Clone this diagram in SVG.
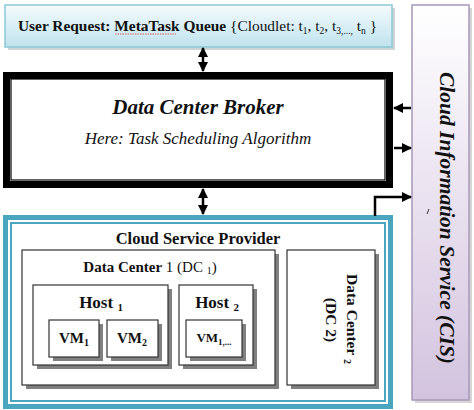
<svg xmlns="http://www.w3.org/2000/svg" width="474" height="410" viewBox="0 0 474 410">
<defs>
<linearGradient id="gUser" x1="0" y1="0" x2="0" y2="1">
<stop offset="0" stop-color="#f4fbfd"/>
<stop offset="1" stop-color="#bfe3ee"/>
</linearGradient>
<linearGradient id="gCis" x1="0" y1="0" x2="0" y2="1">
<stop offset="0" stop-color="#ffffff"/>
<stop offset="1" stop-color="#d3c3df"/>
</linearGradient>
<marker id="ah" markerWidth="10" markerHeight="10" refX="9" refY="5" orient="auto-start-reverse" markerUnits="userSpaceOnUse">
<path d="M0,0 L10,5 L0,10 z" fill="#000"/>
</marker>
</defs>
<style>
.b{font-weight:bold}
.box{fill:#fff;stroke:#333;stroke-width:1.2}
.shadow{fill:#808080}
.conn{stroke:#000;stroke-width:2.5;fill:none}
</style>
<rect width="474" height="410" fill="#fff"/>
<g font-family="Liberation Serif, serif" fill="#111">

<g id="user-request">
<rect x="8" y="8" width="387" height="42" fill="#9aa" opacity="0.5"/>
<rect x="5" y="5" width="387" height="42" fill="url(#gUser)" stroke="#8cc9d6" stroke-width="1.5"/>
<text x="18" y="31" font-size="15.4"><tspan class="b">User Request: MetaTask Queue</tspan> {Cloudlet: t<tspan font-size="9.5" dy="3">1</tspan><tspan dy="-3">, t</tspan><tspan font-size="9.5" dy="3">2</tspan><tspan dy="-3">, t</tspan><tspan font-size="9.5" dy="3">3,...,</tspan><tspan dy="-3"> t</tspan><tspan font-size="9.5" dy="3">n</tspan><tspan dy="-3"> }</tspan></text>
<path d="M115,34 h61" stroke="#e04040" stroke-width="0.8" stroke-dasharray="1.5,1"/>
</g>

<g id="cis">
<rect x="415" y="8" width="57" height="395" fill="#999" opacity="0.4"/>
<rect x="412" y="5" width="57" height="395" fill="url(#gCis)" stroke="#a898b8" stroke-width="1.5"/>
<text x="440" y="218" font-size="21.5" font-style="italic" font-weight="bold" text-anchor="middle" transform="rotate(90 440 218)">Cloud Information Service (CIS)</text>
<path d="M427,214 L429,209" stroke="#333" stroke-width="1"/>
</g>

<g id="broker">
<rect x="6.5" y="75.5" width="383" height="109" fill="#fff" stroke="#000" stroke-width="7"/>
<rect x="11" y="79" width="374" height="101" fill="none" stroke="#000" stroke-width="1.2"/>
<text class="b" x="198" y="114" font-size="21" font-style="italic" text-anchor="middle">Data Center Broker</text>
<text x="198" y="144" font-size="17" font-style="italic" text-anchor="middle">Here: Task Scheduling Algorithm</text>
</g>

<g id="csp">
<rect x="5.5" y="217.5" width="385" height="189" fill="#fff" stroke="#4aa6bf" stroke-width="5"/>
<rect x="11" y="223" width="374" height="178" fill="none" stroke="#4aa6bf" stroke-width="2"/>
<text class="b" x="198" y="244" font-size="16.5" text-anchor="middle">Cloud  Service Provider</text>
</g>

<g id="dc1">
<rect class="shadow" x="26" y="254" width="253" height="135"/>
<rect class="box" x="22" y="250" width="253" height="135"/>
<text x="150" y="272" font-size="15" text-anchor="middle"><tspan class="b">Data Center</tspan> 1 (DC <tspan font-size="10" dy="2">1</tspan><tspan dy="-2">)</tspan></text>
</g>

<g id="host1">
<rect class="shadow" x="37" y="289" width="135" height="80"/>
<rect class="box" x="33" y="285" width="135" height="80"/>
<text class="b" x="101" y="308" font-size="17" text-anchor="middle">Host <tspan font-size="11" dy="3">1</tspan></text>
</g>

<g id="vm1">
<rect class="shadow" x="53" y="324" width="50" height="37"/>
<rect class="box" x="49" y="320" width="50" height="37"/>
<text class="b" x="74" y="343" font-size="15" text-anchor="middle">VM<tspan font-size="10" dy="3">1</tspan></text>
</g>

<g id="vm2">
<rect class="shadow" x="111" y="324" width="51" height="37"/>
<rect class="box" x="107" y="320" width="51" height="37"/>
<text class="b" x="132" y="343" font-size="15" text-anchor="middle">VM<tspan font-size="10" dy="3">2</tspan></text>
</g>

<g id="host2">
<rect class="shadow" x="183" y="289" width="74" height="80"/>
<rect class="box" x="179" y="285" width="74" height="80"/>
<text class="b" x="217" y="308" font-size="17" text-anchor="middle">Host <tspan font-size="11" dy="3">2</tspan></text>
</g>

<g id="vm3">
<rect class="shadow" x="190" y="324" width="56" height="37"/>
<rect class="box" x="186" y="320" width="56" height="37"/>
<text class="b" x="214" y="342" font-size="13" text-anchor="middle">VM<tspan font-size="9" dy="3">1,...</tspan></text>
</g>

<g id="dc2">
<rect class="shadow" x="291" y="254" width="88" height="135"/>
<rect class="box" x="287" y="250" width="88" height="135"/>
<text class="b" x="347" y="319" font-size="15.5" text-anchor="middle" transform="rotate(90 347 319)">Data Center <tspan font-size="10" dy="3">2</tspan></text>
<text class="b" x="326" y="320" font-size="15.5" text-anchor="middle" transform="rotate(90 326 320)">(DC 2)</text>
</g>

</g>
<g id="connectors">
<line class="conn" x1="203" y1="48" x2="203" y2="71" marker-start="url(#ah)" marker-end="url(#ah)"/>
<line class="conn" x1="203" y1="189" x2="203" y2="214" marker-start="url(#ah)" marker-end="url(#ah)"/>
<line class="conn" x1="411" y1="108" x2="394" y2="108" marker-end="url(#ah)"/>
<line class="conn" x1="394" y1="148" x2="411" y2="148" marker-end="url(#ah)"/>
<path class="conn" d="M375,216 V197 H411" marker-end="url(#ah)"/>
</g>
</svg>
